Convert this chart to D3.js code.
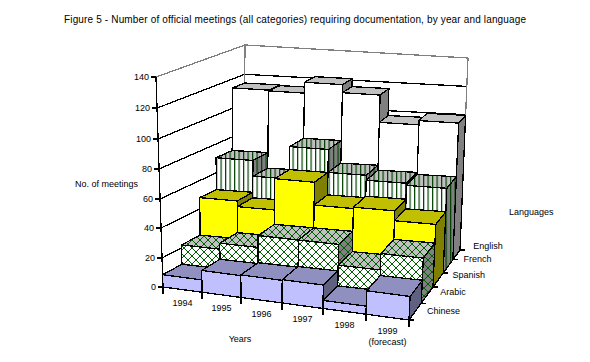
<!DOCTYPE html>
<html><head><meta charset="utf-8">
<script src="https://cdn.jsdelivr.net/npm/d3@7"></script>
<style>html,body{margin:0;background:#fff}svg{display:block}text{font-family:"Liberation Sans",Arial,sans-serif;fill:#000}</style>
</head><body><svg id="c" width="590" height="362"></svg>
<script>
const years=["1994","1995","1996","1997","1998","1999"];
const languages=["Chinese","Arabic","Spanish","French","English"];
const chinese=[8.5,15,15.5,16,5.5,16];
const arabic=[22,26,34,34,20,31];
const spanish=[48,44,66,50,51,44];
const french=[70.5,59.5,82,66,62.5,61];
const english=[114,113.5,121,115.5,96.5,99.5];
const zTicks=[0,20,40,60,80,100,120,140];
const series=[chinese,arabic,spanish,french,english];
const xGrid=[0,1,2,3,4,5,6], xWarp=[0,.159,.317,.484,.650,.825,1];
const yGrid=[0,1,2,3,4,5], yWarp=[0,.24,.47,.67,.86,1];
const sx=d3.scaleLinear().domain(xGrid).range(xWarp);
const sy=d3.scaleLinear().domain(yGrid).range(yWarp);
const sz=d3.scaleLinear().domain(zTicks).range([0,.138,.281,.419,.562,.705,.852,1]);
const corners={fbl:[163,287],fbr:[409,320],btl:[243,243],bbr:[460,250],
  ftl:[156,77],ftr:[419,107],bl:[245,45],br:[468,58]};
function P(u,v,w){
  const lerp=(a,b,t)=>[a[0]+(b[0]-a[0])*t,a[1]+(b[1]-a[1])*t];
  const b=lerp(lerp(corners.fbl,corners.fbr,u),lerp(corners.btl,corners.bbr,u),v);
  const t=lerp(lerp(corners.ftl,corners.ftr,u),lerp(corners.bl,corners.br,u),v);
  return lerp(b,t,w);
}
const svg=d3.select("#c");
const defs=svg.append("defs");
function pat(id,bg,kind){
  const w=kind=="v"?4.5:8;
  const p=defs.append("pattern").attr("id",id).attr("patternUnits","userSpaceOnUse")
    .attr("width",w).attr("height",w);
  p.append("rect").attr("width",w).attr("height",w).attr("fill",bg);
  if(kind=="v"){p.append("rect").attr("x",0).attr("width",1.2).attr("height",w).attr("fill","#004000");}
  else{
    p.append("path").attr("d","M0,0L8,8M8,0L0,8").attr("stroke","#006000").attr("stroke-width",1).attr("fill","none");
  }
}
pat("vF","#fff","v");pat("vT","#c0c0c0","v");pat("vS","#808080","v");
pat("xF","#fff","x");pat("xT","#c0c0c0","x");pat("xS","#808080","x");
const fills=[
 {f:"#c0c0ff",t:"#9090c0",s:"#606080"},
 {f:"url(#xF)",t:"url(#xT)",s:"url(#xS)"},
 {f:"#ffff00",t:"#c0c000",s:"#808000"},
 {f:"url(#vF)",t:"url(#vT)",s:"url(#vS)"},
 {f:"#ffffff",t:"#c0c0c0",s:"#808080"}];
const line=d3.line();
const g=svg.append("g").attr("shape-rendering","crispEdges");
function poly(pts,fill){
  g.append("path").attr("d",line(pts)+"Z").attr("fill",fill).attr("stroke","#000").attr("stroke-width",1.3).attr("stroke-linejoin","round");
}
function seg(a,b,col){g.append("path").attr("d",line([a,b])).attr("stroke",col||"#000").attr("stroke-width",1.3).attr("fill","none");}
zTicks.forEach(z=>{
  const w=sz(z);const c=z==140?"#808080":"#000";
  seg(P(0,0,w),P(0,1,w),c);seg(P(0,1,w),P(1,1,w),c);
});
seg(P(0,1,0),P(0,1,1),"#808080");seg(P(1,1,0),P(1,1,1),"#808080");
seg(P(0,0,0),P(0,0,1));
seg(P(0,0,0),P(1,0,0));seg(P(1,0,0),P(1,1,0));
zTicks.forEach(z=>{const p=P(0,0,sz(z));seg([p[0]-5,p[1]],p);});
xGrid.forEach(i=>{const p=P(sx(i),0,0);seg(p,[p[0],p[1]+7]);});
yGrid.forEach(j=>{const p=P(1,sy(j),0);seg(p,[p[0]+5,p[1]]);});
for(let j=series.length-1;j>=0;j--){
  const v0=sy(j),v1=sy(j+1),fl=fills[j];
  series[j].forEach((val,i)=>{
    const u0=sx(i),u1=sx(i+1),w=sz(val);
    poly([P(u1,v0,0),P(u1,v1,0),P(u1,v1,w),P(u1,v0,w)],fl.s);
    poly([P(u0,v0,w),P(u1,v0,w),P(u1,v1,w),P(u0,v1,w)],fl.t);
    poly([P(u0,v0,0),P(u1,v0,0),P(u1,v0,w),P(u0,v0,w)],fl.f);
  });
}
const T=(x,y,s,a,fs)=>svg.append("text").attr("x",x).attr("y",y).attr("text-anchor",a||"start").attr("font-size",fs||9).text(s);
T(64,23,"Figure 5 - Number of official meetings (all categories) requiring documentation, by year and language","start",10).attr("textLength",462);
zTicks.forEach(z=>{const p=P(0,0,sz(z));T(p[0]-7,p[1]+3,z,"end");});
T(75,187,"No. of meetings");
T(240,342,"Years","middle");
T(509,215,"Languages");
const xLabPos=years.map((y,i)=>P(sx(i+.5),0,0));
years.forEach((y,i)=>T(xLabPos[i][0],xLabPos[i][1]+16.5,y,"middle"));
T(xLabPos[5][0],xLabPos[5][1]+28,"(forecast)","middle");
languages.forEach((l,j)=>{const p=P(1,sy(j+.5),0);T(p[0]+12+j*1.2,p[1]+2-j*2,l);});
</script></body></html>
